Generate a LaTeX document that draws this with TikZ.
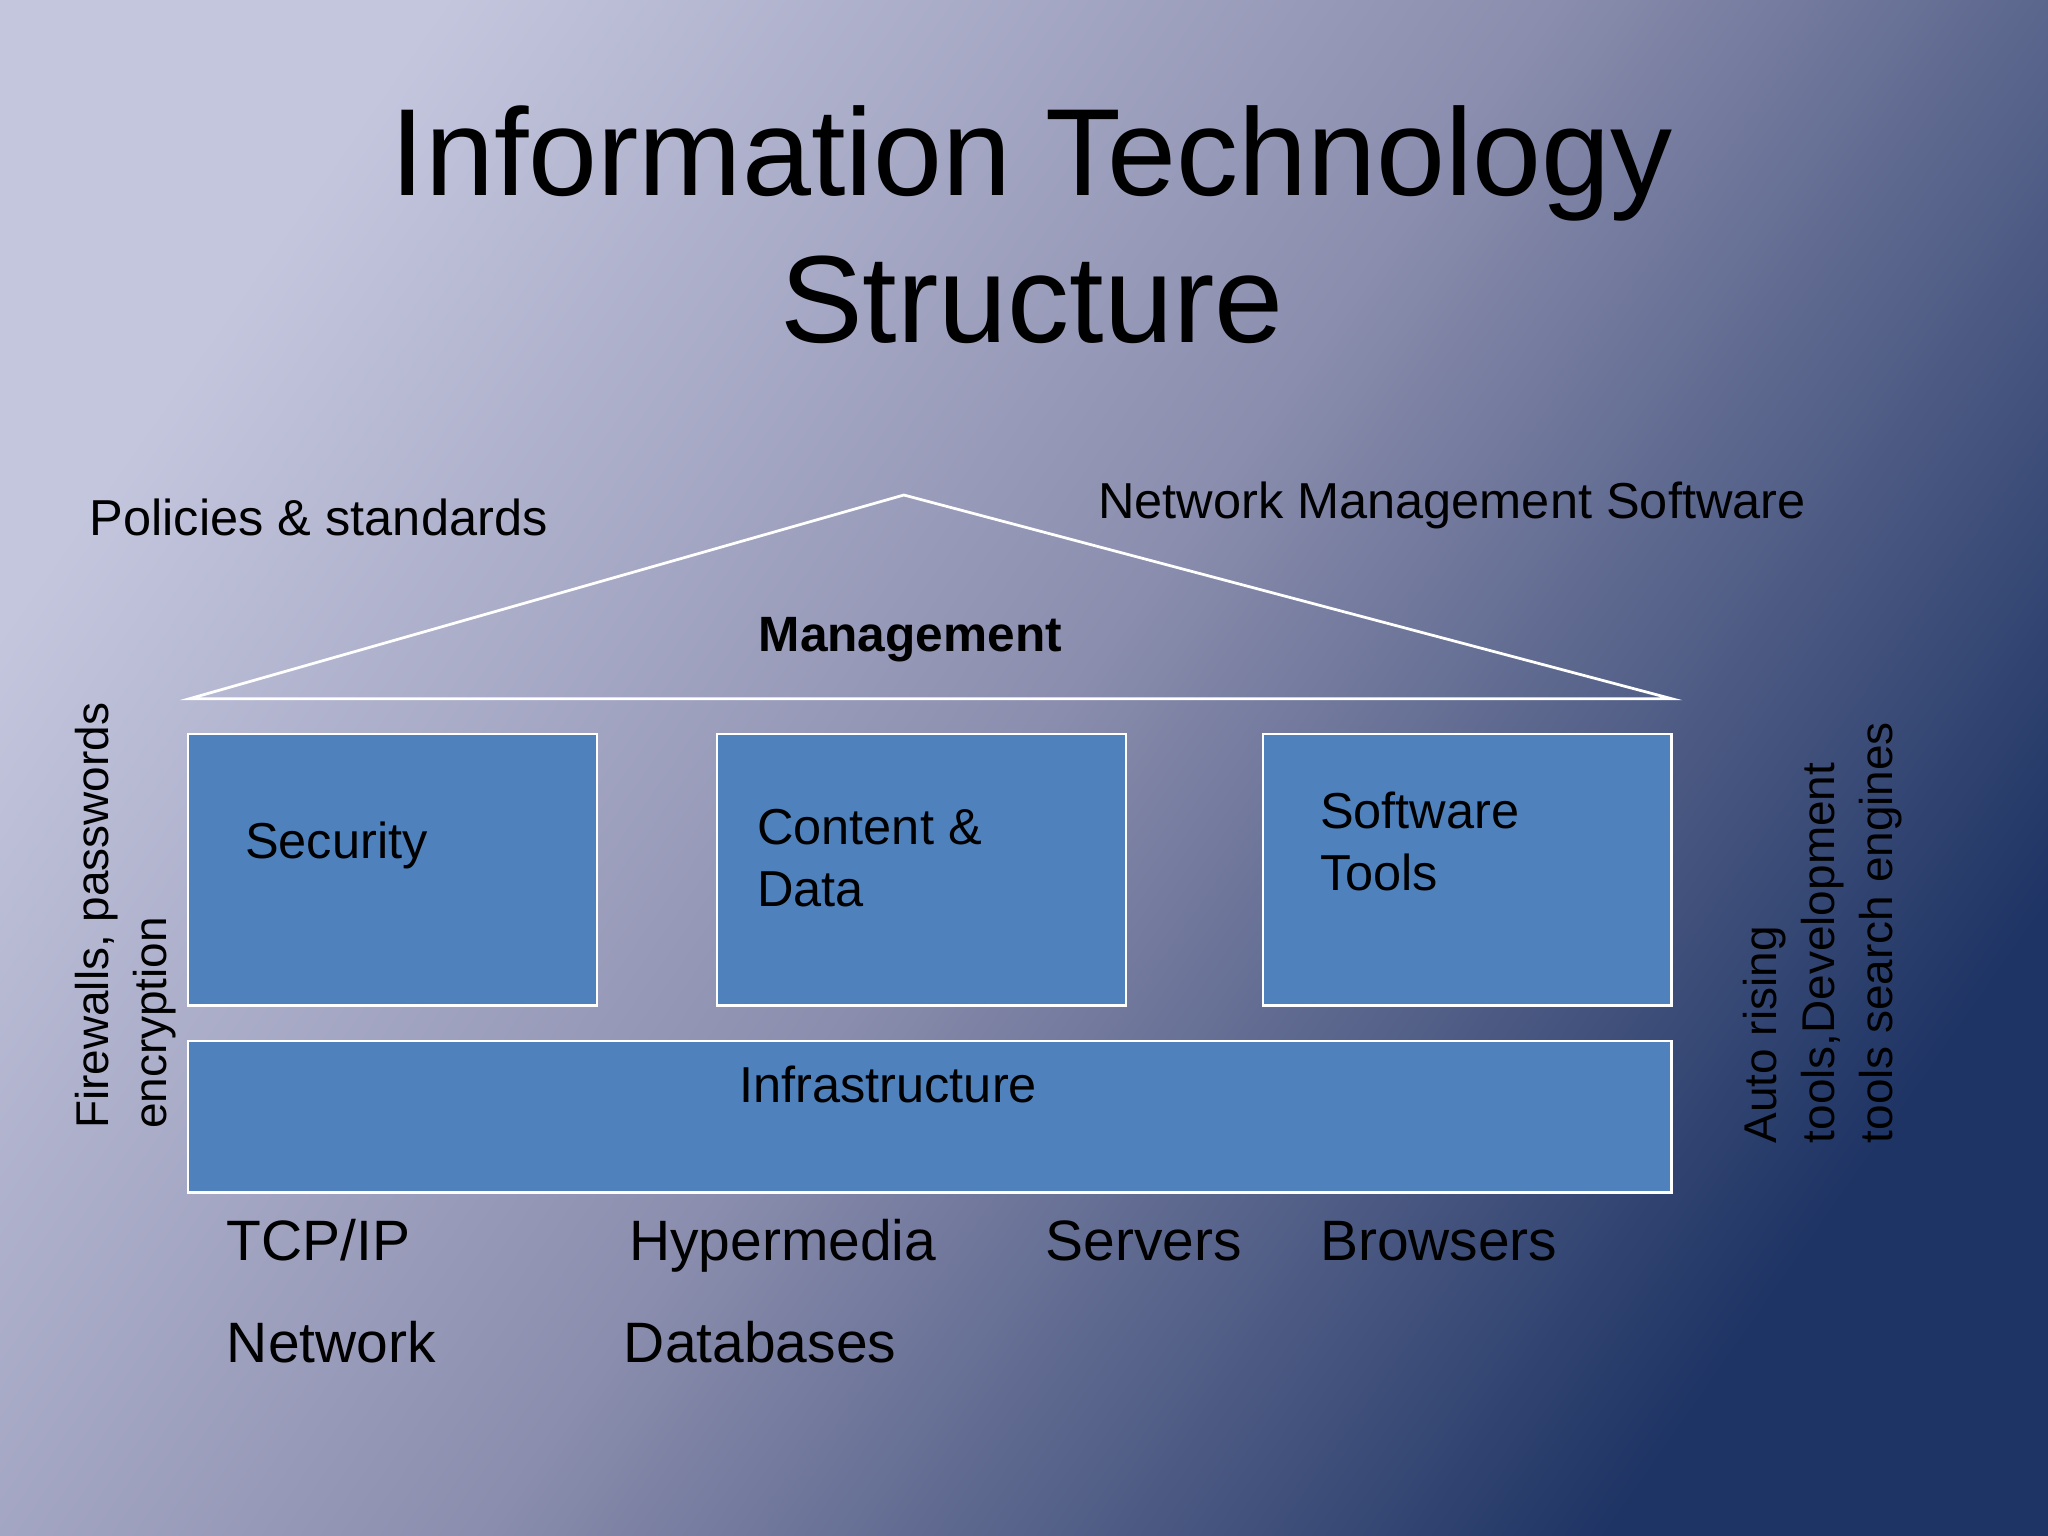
\documentclass[tikz,border=0pt]{standalone}
\usepackage{fontspec}
\setmainfont{Liberation Sans}
\begin{document}
\begin{tikzpicture}[x=0.01cm,y=-0.01cm,
  blk/.style={draw=white, fill=boxblue, line width=0.6pt},
  txt/.style={inner sep=0pt, font=\fontsize{11}{12.6}\selectfont},
  stxt/.style={inner sep=0pt, font=\fontsize{10}{12.6}\selectfont},
  btxt/.style={inner sep=0pt, align=left, font=\fontsize{11}{13.5}\selectfont},
  ltxt/.style={inner sep=0pt, anchor=base west, font=\fontsize{12.4}{15}\selectfont}]
\definecolor{boxblue}{HTML}{4F81BD}
\definecolor{bglight}{HTML}{C4C6DE}
\definecolor{bgdark}{HTML}{1E3464}
\definecolor{bgmid}{HTML}{8A8DAD}
\useasboundingbox (0,0) rectangle (1568,1176);
\shade[shading=axis, top color=bglight, bottom color=bgdark, middle color=bgmid, shading angle=55] (0,0) rectangle (1568,1176);
% title
\node[inner sep=0pt, align=center, font=\fontsize{27}{32}\selectfont] (title) at (790,172) {Information Technology\\Structure};
% roof
\coordinate (rl) at (145,535); \coordinate (rt) at (692,379); \coordinate (rr) at (1280,535);
\draw[white, line width=0.6pt] (rl) -- (rt) -- (rr) -- cycle;
\node[txt, font=\fontsize{10.8}{13}\selectfont\bfseries] (mgmt) at (697,490) {Management};
\node[txt, anchor=base west] (pol) at (68,410) {Policies \& standards};
\node[txt, anchor=base west] (nms) at (840,397) {Network Management Software};
% boxes
\draw[blk] (144,562) rectangle (457,770);
\draw[blk] (549,562) rectangle (862,770);
\draw[blk] (967,562) rectangle (1280,770);
\draw[blk] (144,797) rectangle (1280,913);
\node[btxt, anchor=west] (sec) at (187,647) {Security};
\node[btxt, anchor=west] (cont) at (579,657) {Content \&\\Data};
\node[btxt, anchor=west] (soft) at (1010,644) {Software\\Tools};
\node[btxt] (infra) at (680,830) {Infrastructure};
% bottom labels
\node[ltxt] (tcp) at (173,965) {TCP/IP};
\node[ltxt] (hyp) at (481,965) {Hypermedia};
\node[ltxt] (srv) at (800,965) {Servers};
\node[ltxt] (brw) at (1010,965) {Browsers};
\node[ltxt] (net) at (173,1043) {Network};
\node[ltxt] (db) at (477,1043) {Databases};
% side texts
\node[stxt, rotate=90, anchor=north west, align=left] (fw) at (57,865) {Firewalls, passwords\\encryption};
\node[stxt, rotate=90, anchor=north west, align=left] (auto) at (1334,876) {Auto rising\\tools,Development\\tools search engines};
\end{tikzpicture}
\end{document}
